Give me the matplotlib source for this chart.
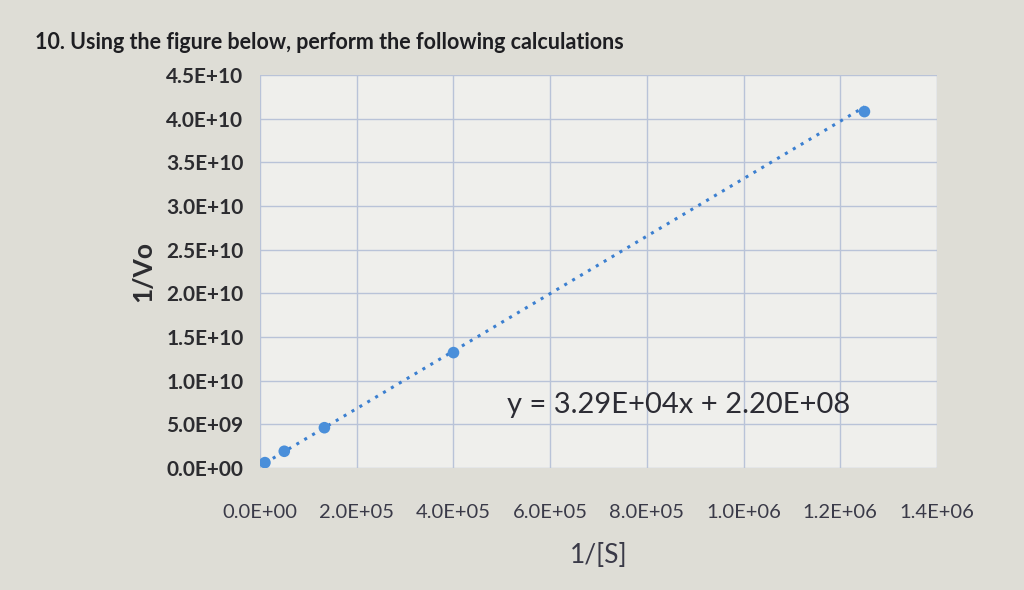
import numpy as np
import matplotlib
matplotlib.use('Agg')
import matplotlib.pyplot as plt
from matplotlib.ticker import FuncFormatter

# values
inv_s = [1.0e4, 5.0e4, 1.33e5, 4.0e5, 1.25e6]
inv_v = [0.6e9, 1.9e9, 4.6e9, 1.32e10, 4.08e10]
slope = 3.29e4
intercept = 2.20e8
x_ticks = [0, 2e5, 4e5, 6e5, 8e5, 1.0e6, 1.2e6, 1.4e6]
y_ticks = [0, 5e9, 1e10, 1.5e10, 2e10, 2.5e10, 3e10, 3.5e10, 4e10, 4.5e10]

title = "10. Using the figure below, perform the following calculations"
eq_label = "y = 3.29E+04x + 2.20E+08"

plt.rcParams['font.family'] = ['Lato', 'DejaVu Sans']


def sci(v, pos):
    return "%.1E" % v


fig = plt.figure(figsize=(10.24, 5.9), dpi=100)
fig.patch.set_facecolor('#deddd6')
ax = fig.add_axes([0.254, 0.207, 0.661, 0.666])
ax.set_facecolor('#efefec')

# trendline (dotted) from the fitted equation
xl = np.array([inv_s[0], inv_s[-1]])
ax.plot(xl, slope * xl + intercept, linestyle=(0, (1, 2)), color='#3b7fd0', lw=2.2)
ax.scatter(inv_s, inv_v, s=70, color='#4a8fda', zorder=3, edgecolors='none')

ax.set_xlim(0, 1.4e6)
ax.set_ylim(0, 4.5e10)
ax.set_xticks(x_ticks)
ax.set_yticks(y_ticks)
ax.xaxis.set_major_formatter(FuncFormatter(sci))
ax.yaxis.set_major_formatter(FuncFormatter(sci))
ax.grid(True, color='#b9c3d8', lw=1.0)
ax.set_axisbelow(True)
for sp in ax.spines.values():
    sp.set_visible(False)
ax.tick_params(length=0)
ax.tick_params(axis='y', pad=12, labelsize=15, labelcolor='#2c2c30')
ax.tick_params(axis='x', pad=26, labelsize=14.5, labelcolor='#3a3a48')
for lab in ax.get_yticklabels():
    lab.set_fontweight('bold')

ax.set_xlabel("1/[S]", fontsize=19, color='#3a3a48', labelpad=16)
ax.set_ylabel("1/Vo", fontsize=19, fontweight='bold', color='#2c2c30', labelpad=8)

ax.text(5.1e5, 7.2e9, eq_label, fontsize=21, color='#2c2c34', va='center')

fig.text(0.034, 0.928, title, fontsize=15.5, fontweight='bold', color='#1e1e22', va='center')

fig.savefig("out.png", dpi=100, facecolor=fig.get_facecolor())
